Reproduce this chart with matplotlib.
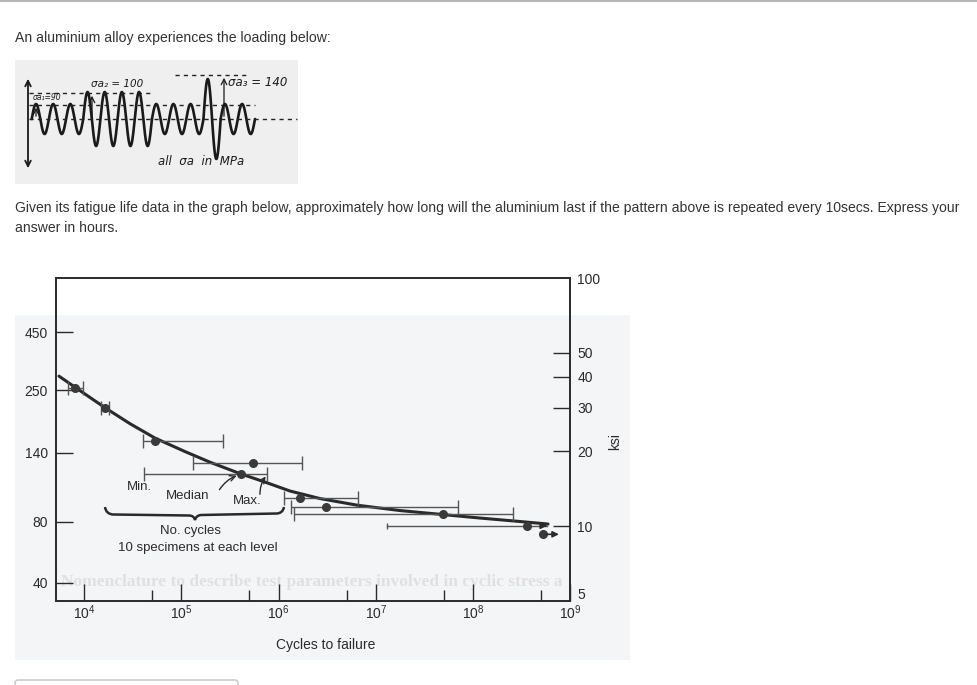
import matplotlib.pyplot as plt
import numpy as np
from matplotlib.patches import Rectangle, FancyBboxPatch
from matplotlib.path import Path
from matplotlib.patches import PathPatch
from matplotlib.ticker import NullLocator, FixedLocator, NullFormatter
from matplotlib.transforms import ScaledTranslation

plt.rcParams['font.family'] = ['Liberation Sans', 'DejaVu Sans']
plt.rcParams['mathtext.fontset'] = 'custom'
plt.rcParams['mathtext.rm'] = 'Liberation Sans'
plt.rcParams['mathtext.it'] = 'Liberation Sans:italic'

# S-N test data (cycles, stress in ksi)
median_cycles = [8.0e3, 1.63e4, 5.33e4, 5.41e5, 4.06e5, 1.66e6, 3.05e6, 4.93e7, 3.56e8]
min_cycles = [6.8e3, 1.49e4, 3.99e4, 1.30e5, 4.14e4, 1.14e6, 1.34e6, 1.44e6, 1.29e7]
max_cycles = [9.6e3, 1.80e4, 2.69e5, 1.75e6, 7.64e5, 6.5e6, 7.05e7, 2.55e8, 5.7e8]
stress_ksi = [35.8, 29.8, 21.9, 17.9, 16.1, 12.95, 11.9, 11.14, 10.0]

# specimen that did not fail (run-out)
runout_cycles = [5.27e8, 8.15e8]
runout_ksi = 9.24

# fitted S-N curve
curve_cycles = [5.49e3, 9.03e3, 1.633e4, 2.953e4, 5.339e4, 1.087e5, 1.965e5, 4.0e5,
                7.23e5, 1.307e6, 2.66e6, 6.39e6, 1.77e7, 4.90e7, 1.178e8, 3.04e8, 5.90e8]
curve_ksi = [39.9, 34.9, 29.8, 25.7, 22.5, 19.86, 18.0, 16.2,
             14.98, 13.79, 12.86, 12.1, 11.51, 11.09, 10.74, 10.4, 10.16]

# axis labels of the scan
mpa_labels = ['450', '250', '140', '80', '40']
mpa_pos_ksi = [60.0, 35.1, 19.6, 10.4, 5.89]
ksi_ticks = [100, 50, 40, 30, 20, 10, 5]
decades = [4, 5, 6, 7, 8, 9]

# loading sketch: amplitude (MPa) of each block and number of cycles in it
block_amp = [90, 100, 90, 140, 90]
block_cycles = [3, 4, 3, 1, 2]

fig = plt.figure(figsize=(9.77, 6.85), dpi=100)
bg = fig.add_axes([0, 0, 1, 1])
bg.set_xlim(0, 977)
bg.set_ylim(685, 0)
bg.axis('off')

txt = '#333333'
bg.plot([0, 977], [1, 1], color='#a8a8a8', lw=1.2)
bg.text(15, 38, 'An aluminium alloy experiences the loading below:', fontsize=10.05,
        color=txt, va='center')
bg.text(15, 208, 'Given its fatigue life data in the graph below, approximately how long will the '
        'aluminium last if the pattern above is repeated every 10secs. Express your',
        fontsize=10.05, color=txt, va='center')
bg.text(15, 228, 'answer in hours.', fontsize=10.05, color=txt, va='center')

# ---- hand drawn loading sketch ----
bg.add_patch(Rectangle((15, 60), 283, 124, fc='#efefef', ec='none'))
mean_y = 119
n_tot = sum(block_cycles)
x0, x1 = 31.7, 255
w = (x1 - x0) / n_tot
px_amp = np.interp(block_amp, [90, 100, 140], [15, 27, 40])
start = 0
for a, n in zip(px_amp, block_cycles):
    t = np.linspace(0, n, 60 * n)
    bg.plot(x0 + (start + t) * w, mean_y - a * np.sin(2 * np.pi * t), color='#1a1a1a', lw=1.9,
            solid_capstyle='round')
    start += n
dash = dict(color='#222222', lw=1.0, ls=(0, (3, 3)))
bg.plot([29, 297], [mean_y, mean_y], **dash)
bg.plot([29, 255], [105, 105], **dash)
bg.plot([29, 153], [93, 93], **dash)
bg.plot([175, 246], [75, 75], **dash)
bg.annotate('', xy=(28, 76), xytext=(28, 171),
            arrowprops=dict(arrowstyle='<->', lw=1.3, color='#1a1a1a'))
for ax_x, top in [(36, 105), (92, 93), (224, 75)]:
    bg.annotate('', xy=(ax_x, top), xytext=(ax_x, mean_y),
                arrowprops=dict(arrowstyle='->', lw=0.9, color='#1a1a1a'))
hand = dict(family='DejaVu Sans', style='italic', color='#1a1a1a', va='center')
bg.text(33, 97, 'σa₁=90', fontsize=5.5, **hand)
bg.text(91, 84, 'σa₂ = 100', fontsize=7.5, **hand)
bg.text(228, 82, 'σa₃ = 140', fontsize=8.5, **hand)
bg.text(158, 161, 'all  σa  in  MPa', fontsize=8.5, **hand)

# ---- scanned graph background ----
bg.add_patch(Rectangle((15, 315), 615, 345, fc='#f4f5f7', ec='none'))
bg.text(312, 582, 'Nomenclature to describe test parameters involved in cyclic stress a',
        family='Liberation Serif', weight='bold', fontsize=12.5, color='#e0e0e0',
        ha='center', va='center')

# answer box
bg.add_patch(FancyBboxPatch((15, 680), 223, 20, boxstyle='round,pad=0,rounding_size=3',
                            fc='white', ec='#c4c4c4', lw=1))

# ---- S-N chart ----
L, R, T, B = 56.3, 570.3, 278.0, 600.7
ax = fig.add_axes([L / 977, (685 - B) / 685, (R - L) / 977, (B - T) / 685])
ax.set_zorder(2)
ax.patch.set_visible(False)
ax.set_xscale('log')
ax.set_yscale('log')
ax.set_xlim(10 ** 3.712, 1e9)
ax.set_ylim(5.0, 98.9)

ink = '#2a2a2a'
ax.plot(curve_cycles, curve_ksi, color=ink, lw=2.2, solid_capstyle='round',
        solid_joinstyle='round')
n = len(median_cycles) - 1
med = np.array(median_cycles[:n])
ax.errorbar(med, stress_ksi[:n],
            xerr=[med - np.array(min_cycles[:n]), np.array(max_cycles[:n]) - med],
            fmt='o', ms=5.5, color='#3a3a3a', ecolor='#555555', elinewidth=1.0,
            capsize=5, capthick=1.0)
# last level: left cap, arrow on the right
ax.plot([min_cycles[n], max_cycles[n]], [stress_ksi[n]] * 2, color='#555555', lw=1.0)
ax.plot([min_cycles[n]], [stress_ksi[n]], marker='|', ms=5, color='#555555')
ax.plot([median_cycles[n]], [stress_ksi[n]], 'o', ms=5.5, color='#3a3a3a')
ax.annotate('', xy=(max_cycles[n] * 1.08, stress_ksi[n]), xytext=(max_cycles[n] * 0.9, stress_ksi[n]),
            arrowprops=dict(arrowstyle='-|>', lw=1.2, color=ink, mutation_scale=9))
ax.plot([runout_cycles[0]], [runout_ksi], 'o', ms=5.5, color='#3a3a3a')
ax.annotate('', xy=(runout_cycles[1], runout_ksi), xytext=(runout_cycles[0], runout_ksi),
            arrowprops=dict(arrowstyle='-|>', lw=1.2, color=ink, mutation_scale=9),
            annotation_clip=False)

# Min / Median / Max annotation and brace
lab = dict(fontsize=9.5, color=ink, va='center', ha='center')
bg.text(139, 487, 'Min.', **lab)
bg.text(188, 496, 'Median', **lab)
bg.text(247, 501, 'Max.', **lab)
ax.annotate('', xy=(median_cycles[4], stress_ksi[4]), xytext=(218, 492),
            textcoords=bg.transData,
            arrowprops=dict(arrowstyle='->', lw=1.0, color=ink, shrinkB=3,
                            connectionstyle='arc3,rad=-0.2'))
ax.annotate('', xy=(max_cycles[4], stress_ksi[4]), xytext=(260, 497),
            textcoords=bg.transData,
            arrowprops=dict(arrowstyle='->', lw=1.0, color=ink, shrinkB=2,
                            connectionstyle='arc3,rad=-0.2'))
verts = [(105, 507), (106, 514), (113, 514.5), (189, 515.5), (194, 515.5), (195, 520),
         (196, 515.5), (201, 515), (277, 513.5), (283, 513), (284, 507)]
codes = [Path.MOVETO, Path.CURVE3, Path.CURVE3, Path.LINETO, Path.CURVE3, Path.CURVE3,
         Path.CURVE3, Path.CURVE3, Path.LINETO, Path.CURVE3, Path.CURVE3]
bg.add_patch(PathPatch(Path(verts, codes), fc='none', ec=ink, lw=1.8))
bg.text(191, 531, 'No. cycles', **lab)
bg.text(198, 548, '10 specimens at each level', **lab)

# axes styling
for s in ax.spines.values():
    s.set_color(ink)
    s.set_linewidth(1.4)
ax.set_xticks([10.0 ** d for d in decades], [r'$10^{%d}$' % d for d in decades])
ax.xaxis.set_minor_locator(FixedLocator([5 * 10.0 ** d for d in range(3, 9)]))
ax.xaxis.set_minor_formatter(NullFormatter())
ax.tick_params(axis='x', which='major', direction='in', length=12, width=1, colors=ink,
               labelsize=10, pad=2)
ax.tick_params(axis='x', which='minor', direction='in', length=8, width=1, colors=ink)
ax.set_yticks(mpa_pos_ksi, mpa_labels)
ax.yaxis.set_minor_locator(NullLocator())
ax.tick_params(axis='y', direction='in', length=12, width=1, colors=ink, labelsize=10, pad=6)
ax.set_xlabel('Cycles to failure', fontsize=10, color=ink)
ax.xaxis.set_label_coords((325.5 - L) / (R - L), (B - 638) / (B - T))

axr = ax.twinx()
axr.set_zorder(3)
axr.patch.set_visible(False)
axr.set_yscale('log')
axr.set_ylim(5.0, 98.9)
axr.set_yticks(ksi_ticks, [str(k) for k in ksi_ticks])
axr.yaxis.set_minor_locator(NullLocator())
axr.tick_params(axis='y', direction='in', length=12, width=1, colors=ink, labelsize=10, pad=5)
lift = ScaledTranslation(0, 7 / 100, fig.dpi_scale_trans)
for tk, k in zip(axr.yaxis.get_major_ticks(), ksi_ticks):
    if k in (100, 5):
        tk.tick2line.set_visible(False)
    if k == 5:
        tk.label2.set_transform(tk.label2.get_transform() + lift)
for s in axr.spines.values():
    s.set_visible(False)
axr.set_ylabel('ksi', fontsize=10, color=ink)
axr.yaxis.set_label_coords((608 - L) / (R - L), (B - 442) / (B - T))

fig.savefig('out.png', dpi=100)
